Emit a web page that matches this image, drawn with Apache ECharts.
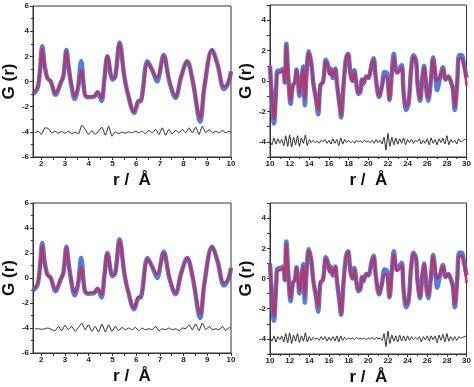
<!DOCTYPE html>
<html>
<head>
<meta charset="utf-8">
<script src="https://cdn.jsdelivr.net/npm/echarts@6/dist/echarts.min.js"></script>
<style>
html,body{margin:0;padding:0;background:#fff;}
#c{width:474px;height:387px;}
</style>
</head>
<body>
<div id="c"></div>
<script>
// ---------- DATA ----------
// Low-r panels (1.65 - 10 Å): observed (blue) and calculated (red) G(r)
var rLow = [1.65,1.83,1.93,2.04,2.14,2.25,2.4,2.6,2.82,2.93,3.06,3.15,3.24,3.41,3.55,3.68,3.83,3.95,4.23,4.37,4.54,4.66,4.79,5.0,5.12,5.3,5.5,5.64,5.92,6.09,6.2,6.48,6.7,6.88,7.16,7.4,7.66,7.9,8.15,8.39,8.7,8.88,9.2,9.44,9.7,9.87,10.0];
var gObsLow = [-1.0,-0.6,0.6,2.8,1.3,0.3,0.0,-1.05,-0.1,0.4,2.5,1.2,0.0,-1.4,-0.5,1.6,-1.0,-1.25,-1.2,-0.85,-1.55,0.2,2.0,0.15,0.4,3.1,0.4,-0.9,-2.5,-1.6,-1.55,1.6,0.8,0.0,2.1,0.0,-1.3,0.4,1.6,0.0,-3.2,-0.4,2.5,1.3,-0.6,-0.2,0.8];
var gCalcLow = [-0.9,-0.5,0.5,2.6,1.2,0.3,0.0,-0.95,-0.1,0.4,2.4,1.2,0.1,-1.2,-0.4,0.9,-0.9,-1.2,-1.15,-0.8,-1.35,0.2,2.0,0.27,0.4,3.0,0.5,-0.9,-2.4,-1.5,-1.5,1.5,0.8,0.3,2.0,0.1,-1.2,0.4,1.6,0.0,-2.9,-0.4,2.5,1.3,-0.4,-0.1,0.8];
// difference curves (offset), low-r panels
var rDiffLow = [1.73,1.87,2.01,2.15,2.29,2.44,2.58,2.72,2.86,3.0,3.14,3.28,3.43,3.57,3.71,3.85,3.99,4.13,4.27,4.41,4.56,4.70,4.84,4.98,5.12,5.26,5.40,5.55,5.69,5.83,5.97,6.11,6.25,6.39,6.53,6.68,6.82,6.96,7.10,7.24,7.38,7.52,7.67,7.81,7.95,8.09,8.23,8.37,8.51,8.65,8.79,8.94,9.08,9.22,9.36,9.50,9.64,9.78,9.93,10.0];
var gDiffLowA = [-4.08,-3.95,-4.21,-3.68,-3.73,-4.08,-3.95,-4.11,-3.97,-4.11,-3.95,-4.13,-4.03,-4.16,-3.47,-3.81,-4.21,-3.89,-4.21,-3.95,-3.63,-4.27,-3.55,-4.35,-4.0,-4.13,-4.03,-4.11,-4.0,-4.08,-3.95,-4.08,-3.95,-4.16,-3.89,-4.08,-3.81,-4.21,-3.68,-4.27,-3.81,-4.16,-3.89,-4.08,-3.81,-4.08,-3.68,-4.08,-3.63,-4.21,-3.55,-4.08,-3.81,-4.08,-3.95,-4.08,-3.89,-4.08,-3.95,-4.08];
var gDiffLowB = [-4.06,-4.06,-4.11,-4.06,-4.0,-4.14,-4.22,-3.87,-4.22,-3.79,-4.14,-3.87,-4.27,-3.95,-3.6,-4.14,-3.74,-4.27,-3.87,-4.32,-3.68,-4.32,-3.74,-4.27,-3.87,-4.22,-3.95,-4.14,-4.0,-4.14,-3.95,-4.22,-4.0,-4.14,-4.06,-4.14,-3.87,-4.22,-4.06,-4.14,-4.0,-4.14,-4.06,-4.22,-4.0,-4.06,-3.74,-4.14,-3.68,-4.22,-3.6,-4.14,-3.87,-4.14,-4.06,-4.14,-3.87,-4.22,-3.95,-4.06];

// High-r panels (10 - 30 Å)
var rHigh = [10.0,10.17,10.4,10.64,10.74,11.08,11.35,11.5,11.66,11.86,12.1,12.33,12.53,12.7,12.84,13.0,13.28,13.38,13.55,13.7,13.95,14.2,14.4,14.7,14.9,15.13,15.4,15.68,15.88,16.08,16.2,16.4,16.65,16.8,17.1,17.23,17.5,17.74,17.94,18.2,18.4,18.58,18.85,19.0,19.2,19.36,19.5,19.8,20.0,20.37,20.54,20.78,21.1,21.4,21.65,21.9,22.16,22.4,22.6,22.9,23.14,23.4,23.6,23.85,24.1,24.36,24.6,24.86,25.0,25.27,25.5,25.68,25.95,26.1,26.35,26.6,26.86,27.0,27.3,27.6,27.87,28.14,28.38,28.6,28.8,29.05,29.25,29.5,29.73,30.0];
var gObsHigh = [1.0,-0.9,-2.8,-0.3,0.65,0.7,0.8,-0.1,2.45,0.3,-1.5,-0.3,-0.1,0.75,0.1,-1.0,0.5,0.95,-1.6,0.3,1.95,1.2,-0.1,-1.3,-2.2,-0.3,-0.05,1.4,1.1,0.5,0.8,0.2,0.8,-0.1,-1.7,-2.4,-0.1,1.5,1.8,0.4,0.0,0.7,-0.5,-0.85,-0.7,0.1,-0.2,0.3,0.2,1.2,1.5,0.1,-1.05,-0.3,0.6,0.5,-1.25,0.55,1.8,0.6,0.8,1.05,-0.8,-1.9,-1.5,0.75,1.7,1.35,-0.1,-1.3,0.2,1.0,-0.8,-1.3,-0.1,1.55,0.2,-0.6,0.2,0.9,0.1,0.3,0.0,-0.5,-1.9,-0.1,1.7,1.7,1.1,0.2];
var gCalcHigh = [1.0,-0.75,-2.5,-0.3,0.5,0.55,0.7,-0.1,2.3,0.3,-1.3,-0.2,-0.1,0.7,0.1,-0.85,0.4,0.8,-1.2,0.3,1.85,1.2,-0.1,-1.2,-1.9,-0.2,-0.1,1.3,1.0,0.4,0.7,0.3,0.75,-0.1,-1.6,-2.3,-0.1,1.4,1.75,0.3,0.0,0.6,-0.4,-0.75,-0.65,0.1,-0.1,0.3,0.2,1.1,1.4,0.1,-1.0,-0.3,0.3,0.3,-1.2,0.5,1.6,0.5,0.6,0.9,-0.75,-1.7,-1.4,0.7,1.6,1.3,-0.1,-1.2,0.2,0.9,-0.75,-1.1,-0.1,1.45,0.3,0.0,0.3,0.8,0.1,0.3,0.0,-0.5,-1.7,-0.1,1.5,1.5,1.0,-0.3];
var rDiffHigh = [10.0,10.2,10.4,10.6,10.8,11.0,11.2,11.4,11.6,11.8,12.0,12.2,12.4,12.6,12.8,13.0,13.2,13.4,13.6,13.8,14.0,14.2,14.4,14.6,14.8,15.0,15.2,15.4,15.6,15.8,16.0,16.2,16.4,16.6,16.8,17.0,17.2,17.4,17.6,17.8,18.0,18.2,18.4,18.6,18.8,19.0,19.2,19.4,19.6,19.8,20.0,20.2,20.4,20.6,20.8,21.0,21.2,21.4,21.6,21.8,22.0,22.2,22.4,22.6,22.8,23.0,23.2,23.4,23.6,23.8,24.0,24.2,24.4,24.6,24.8,25.0,25.2,25.4,25.6,25.8,26.0,26.2,26.4,26.6,26.8,27.0,27.2,27.4,27.6,27.8,28.0,28.2,28.4,28.6,28.8,29.0,29.2,29.4,29.6,29.8,30.0];
var gDiffHighA = [-3.95,-4.2,-3.75,-4.15,-3.8,-4.1,-3.85,-4.25,-3.6,-4.3,-3.55,-4.35,-3.7,-4.2,-3.6,-4.3,-3.75,-4.1,-3.55,-4.25,-3.85,-4.05,-3.9,-4.05,-3.95,-4.1,-3.9,-4.0,-3.85,-4.1,-3.9,-4.15,-3.8,-4.1,-3.85,-4.25,-3.75,-4.15,-3.85,-4.05,-3.9,-4.05,-3.95,-4.1,-3.9,-4.0,-3.95,-4.05,-3.9,-4.0,-3.95,-4.05,-3.9,-4.1,-3.85,-4.05,-3.9,-4.15,-3.7,-4.55,-3.45,-4.3,-3.7,-4.2,-3.75,-4.15,-3.8,-4.1,-3.75,-4.2,-3.85,-4.05,-3.85,-4.1,-3.9,-4.0,-3.8,-4.15,-3.9,-4.1,-3.8,-4.2,-3.75,-4.1,-3.85,-4.2,-3.8,-4.05,-3.75,-4.15,-3.6,-4.2,-3.85,-4.05,-3.9,-4.15,-3.8,-4.0,-3.95,-3.85,-3.85];
var gDiffHighB = [-3.9,-4.15,-3.8,-4.2,-3.85,-4.05,-3.8,-4.2,-3.65,-4.25,-3.6,-4.3,-3.75,-4.15,-3.65,-4.25,-3.8,-4.15,-3.6,-4.2,-3.85,-4.1,-3.9,-4.0,-3.95,-4.1,-3.85,-4.05,-3.85,-4.15,-3.9,-4.1,-3.85,-4.15,-3.8,-4.2,-3.8,-4.1,-3.9,-4.05,-3.95,-4.0,-3.95,-4.05,-3.9,-4.0,-3.95,-4.0,-3.95,-4.05,-3.95,-4.0,-3.9,-4.05,-3.9,-4.0,-3.95,-4.1,-3.65,-4.5,-3.5,-4.3,-3.75,-4.15,-3.8,-4.2,-3.75,-4.15,-3.8,-4.15,-3.8,-4.1,-3.85,-4.05,-3.9,-4.05,-3.85,-4.2,-3.85,-4.05,-3.8,-4.15,-3.8,-4.05,-3.8,-4.25,-3.75,-4.1,-3.7,-4.2,-3.65,-4.15,-3.85,-4.1,-3.85,-4.1,-3.85,-3.95,-3.9,-3.85,-3.8];

var xTicksLow = [2,3,4,5,6,7,8,9,10];
var xMinorLow = [2,2.5,3,3.5,4,4.5,5,5.5,6,6.5,7,7.5,8,8.5,9,9.5,10];
var yTicksHigh = [-4,-2,0,2,4];
var yMinorHigh = [-5,-4,-3,-2,-1,0,1,2,3,4,5];

// ---------- CHART ----------
function pairs(xs, ys){ return xs.map(function(x,i){ return [x, ys[i]]; }); }

var FONT = 'Liberation Sans';
var blue = '#3f6fdc', red = '#c2305e';
var labelStyle = {color:'#222', fontFamily:FONT, fontWeight:'bold', fontSize:8};
var nameStyle = {color:'#111', fontFamily:FONT, fontWeight:'bold', fontSize:17};
var axisLine = {show:true, onZero:false, lineStyle:{color:'#333', width:1}};

var grids = [
  {left:33, top:6, right:243, bottom:230},
  {left:270, top:5, right:7, bottom:230},
  {left:33, top:203, right:243, bottom:34},
  {left:270, top:203, right:7, bottom:33}
];
grids.forEach(function(g){ g.show = true; g.borderColor = '#333'; g.borderWidth = 1; g.backgroundColor='transparent'; });

function xLow(i){
  return {type:'value', gridIndex:i, min:1.65, max:10, name:'r /  Å', nameLocation:'middle', nameGap:15,
    nameTextStyle:nameStyle, axisLine:axisLine, splitLine:{show:false},
    axisTick:{show:true, length:3, customValues:xMinorLow, lineStyle:{color:'#333'}},
    axisLabel:Object.assign({margin:3, customValues:xTicksLow}, labelStyle)};
}
function xHigh(i){
  return {type:'value', gridIndex:i, min:10, max:30, interval:2, name:'r /  Å', nameLocation:'middle', nameGap:15,
    nameTextStyle:nameStyle, axisLine:axisLine, splitLine:{show:false},
    axisTick:{show:true, length:3, lineStyle:{color:'#333'}},
    minorTick:{show:true, splitNumber:2, length:2, lineStyle:{color:'#333'}},
    axisLabel:Object.assign({margin:3}, labelStyle)};
}
function yLow(i){
  return {type:'value', gridIndex:i, min:-6, max:6, interval:2, name:'G (r)', nameLocation:'middle', nameGap:14,
    nameTextStyle:nameStyle, axisLine:axisLine, splitLine:{show:false},
    axisTick:{show:true, length:3, lineStyle:{color:'#333'}},
    minorTick:{show:true, splitNumber:2, length:2, lineStyle:{color:'#333'}},
    axisLabel:Object.assign({margin:4}, labelStyle)};
}
function yHigh(i){
  return {type:'value', gridIndex:i, min:-5, max:5, name:'G (r)', nameLocation:'middle', nameGap:12,
    nameTextStyle:nameStyle, axisLine:axisLine, splitLine:{show:false},
    axisTick:{show:true, length:3, customValues:yMinorHigh, lineStyle:{color:'#333'}},
    axisLabel:Object.assign({margin:4, customValues:yTicksHigh}, labelStyle)};
}

function panelSeries(i, rs, obs, calc, rd, diff){
  return [
    {type:'line', xAxisIndex:i, yAxisIndex:i, data:pairs(rs, obs), smooth:0.35, showSymbol:false,
      lineStyle:{color:blue, width:4.5, opacity:0.9}, z:2},
    {type:'line', xAxisIndex:i, yAxisIndex:i, data:pairs(rs, calc), smooth:0.35, showSymbol:false,
      lineStyle:{color:red, width:2.6, opacity:0.9}, z:3},
    {type:'line', xAxisIndex:i, yAxisIndex:i, data:pairs(rd, diff), smooth:0.15, showSymbol:false,
      lineStyle:{color:'#111', width:0.9}, z:4}
  ];
}

var option = {
  animation:false,
  backgroundColor:'#fff',
  grid:grids,
  xAxis:[xLow(0), xHigh(1), xLow(2), xHigh(3)],
  yAxis:[yLow(0), yHigh(1), yLow(2), yHigh(3)],
  series:[].concat(
    panelSeries(0, rLow, gObsLow, gCalcLow, rDiffLow, gDiffLowA),
    panelSeries(1, rHigh, gObsHigh, gCalcHigh, rDiffHigh, gDiffHighA),
    panelSeries(2, rLow, gObsLow, gCalcLow, rDiffLow, gDiffLowB),
    panelSeries(3, rHigh, gObsHigh, gCalcHigh, rDiffHigh, gDiffHighB)
  )
};
var chart = echarts.init(document.getElementById('c'), null, {renderer:'canvas'});
chart.setOption(option);
</script>
</body>
</html>
